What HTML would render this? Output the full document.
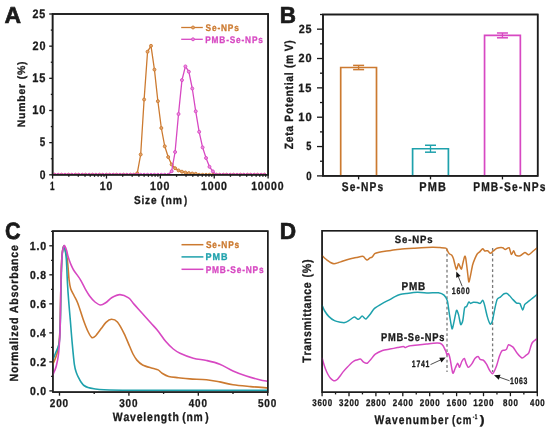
<!DOCTYPE html>
<html><head><meta charset="utf-8"><style>
html,body{margin:0;padding:0;background:#fff;}
body{width:550px;height:430px;overflow:hidden;}
svg{display:block;will-change:transform;}
text{font-family:"Liberation Sans", sans-serif;font-weight:bold;text-rendering:geometricPrecision;font-kerning:none;font-variant-ligatures:none;stroke-width:0.3px;stroke-linejoin:round;}
</style></head><body>
<svg width="550" height="430" viewBox="0 0 550 430">
<defs><clipPath id="clipA"><rect x="52.6" y="10" width="215.5" height="164.8"/></clipPath><clipPath id="clipC"><rect x="52.8" y="231.1" width="214.9" height="160.5"/></clipPath></defs>
<rect width="550" height="430" fill="#fff"/>
<text style="stroke-width:0.7px" x="0" y="22.8" font-size="22.97" fill="#1a1a1a" stroke="#1a1a1a" letter-spacing="0.95" transform="translate(4.53,0) scale(0.9995,1)">A</text>
<text style="stroke-width:0.7px" x="0" y="22.8" font-size="23.26" fill="#1a1a1a" stroke="#1a1a1a" letter-spacing="0.95" transform="translate(279.8,0) scale(0.9660,1)">B</text>
<text style="stroke-width:0.7px" x="0" y="238.8" font-size="23.55" fill="#1a1a1a" stroke="#1a1a1a" letter-spacing="0.95" transform="translate(4.92,0) scale(0.9159,1)">C</text>
<text style="stroke-width:0.7px" x="0" y="238.7" font-size="23.11" fill="#1a1a1a" stroke="#1a1a1a" letter-spacing="0.95" transform="translate(279.78,0) scale(0.9807,1)">D</text>
<rect x="52.6" y="14" width="215.5" height="160.8" fill="none" stroke="#1c1c1c" stroke-width="1.55"/>
<line x1="49.2" y1="174.8" x2="52.6" y2="174.8" stroke="#1a1a1a" stroke-width="1.3"/>
<text x="0" y="178.55" font-size="12.35" fill="#1a1a1a" stroke="#1a1a1a" letter-spacing="0.95" transform="translate(39.69,0) scale(0.8339,1)">0</text>
<line x1="49.2" y1="142.64" x2="52.6" y2="142.64" stroke="#1a1a1a" stroke-width="1.3"/>
<text x="0" y="146.39" font-size="12.35" fill="#1a1a1a" stroke="#1a1a1a" letter-spacing="0.95" transform="translate(39.8,0) scale(0.7971,1)">5</text>
<line x1="49.2" y1="110.48" x2="52.6" y2="110.48" stroke="#1a1a1a" stroke-width="1.3"/>
<text x="0" y="114.23" font-size="12.35" fill="#1a1a1a" stroke="#1a1a1a" letter-spacing="0.95" transform="translate(32.2,0) scale(0.9025,1)">10</text>
<line x1="49.2" y1="78.32" x2="52.6" y2="78.32" stroke="#1a1a1a" stroke-width="1.3"/>
<text x="0" y="82.07" font-size="12.35" fill="#1a1a1a" stroke="#1a1a1a" letter-spacing="0.95" transform="translate(32.21,0) scale(0.8917,1)">15</text>
<line x1="49.2" y1="46.16" x2="52.6" y2="46.16" stroke="#1a1a1a" stroke-width="1.3"/>
<text x="0" y="49.91" font-size="12.35" fill="#1a1a1a" stroke="#1a1a1a" letter-spacing="0.95" transform="translate(32.52,0) scale(0.8795,1)">20</text>
<line x1="49.2" y1="14" x2="52.6" y2="14" stroke="#1a1a1a" stroke-width="1.3"/>
<text x="0" y="17.75" font-size="12.35" fill="#1a1a1a" stroke="#1a1a1a" letter-spacing="0.95" transform="translate(32.53,0) scale(0.8693,1)">25</text>
<line x1="50.8" y1="158.72" x2="52.6" y2="158.72" stroke="#1a1a1a" stroke-width="1.3"/>
<line x1="50.8" y1="126.56" x2="52.6" y2="126.56" stroke="#1a1a1a" stroke-width="1.3"/>
<line x1="50.8" y1="94.4" x2="52.6" y2="94.4" stroke="#1a1a1a" stroke-width="1.3"/>
<line x1="50.8" y1="62.24" x2="52.6" y2="62.24" stroke="#1a1a1a" stroke-width="1.3"/>
<line x1="50.8" y1="30.08" x2="52.6" y2="30.08" stroke="#1a1a1a" stroke-width="1.3"/>
<line x1="52.6" y1="174.8" x2="52.6" y2="178.6" stroke="#1a1a1a" stroke-width="1.3"/>
<text x="0" y="190" font-size="11.92" fill="#1a1a1a" stroke="#1a1a1a" letter-spacing="0.95" transform="translate(49.99,0) scale(0.6852,1)">1</text>
<line x1="106.48" y1="174.8" x2="106.48" y2="178.6" stroke="#1a1a1a" stroke-width="1.3"/>
<text x="0" y="190" font-size="11.92" fill="#1a1a1a" stroke="#1a1a1a" letter-spacing="0.95" transform="translate(99.84,0) scale(0.8791,1)">10</text>
<line x1="160.35" y1="174.8" x2="160.35" y2="178.6" stroke="#1a1a1a" stroke-width="1.3"/>
<text x="0" y="190" font-size="11.92" fill="#1a1a1a" stroke="#1a1a1a" letter-spacing="0.95" transform="translate(150.08,0) scale(0.8907,1)">100</text>
<line x1="214.23" y1="174.8" x2="214.23" y2="178.6" stroke="#1a1a1a" stroke-width="1.3"/>
<text x="0" y="190" font-size="11.92" fill="#1a1a1a" stroke="#1a1a1a" letter-spacing="0.95" transform="translate(200.93,0) scale(0.8889,1)">1000</text>
<line x1="268.1" y1="174.8" x2="268.1" y2="178.6" stroke="#1a1a1a" stroke-width="1.3"/>
<text x="0" y="190" font-size="11.92" fill="#1a1a1a" stroke="#1a1a1a" letter-spacing="0.95" transform="translate(251.19,0) scale(0.8767,1)">10000</text>
<line x1="68.82" y1="174.8" x2="68.82" y2="176.8" stroke="#1a1a1a" stroke-width="1.3"/>
<line x1="78.3" y1="174.8" x2="78.3" y2="176.8" stroke="#1a1a1a" stroke-width="1.3"/>
<line x1="85.04" y1="174.8" x2="85.04" y2="176.8" stroke="#1a1a1a" stroke-width="1.3"/>
<line x1="90.26" y1="174.8" x2="90.26" y2="176.8" stroke="#1a1a1a" stroke-width="1.3"/>
<line x1="94.52" y1="174.8" x2="94.52" y2="176.8" stroke="#1a1a1a" stroke-width="1.3"/>
<line x1="98.13" y1="174.8" x2="98.13" y2="176.8" stroke="#1a1a1a" stroke-width="1.3"/>
<line x1="101.25" y1="174.8" x2="101.25" y2="176.8" stroke="#1a1a1a" stroke-width="1.3"/>
<line x1="104.01" y1="174.8" x2="104.01" y2="176.8" stroke="#1a1a1a" stroke-width="1.3"/>
<line x1="122.69" y1="174.8" x2="122.69" y2="176.8" stroke="#1a1a1a" stroke-width="1.3"/>
<line x1="132.18" y1="174.8" x2="132.18" y2="176.8" stroke="#1a1a1a" stroke-width="1.3"/>
<line x1="138.91" y1="174.8" x2="138.91" y2="176.8" stroke="#1a1a1a" stroke-width="1.3"/>
<line x1="144.13" y1="174.8" x2="144.13" y2="176.8" stroke="#1a1a1a" stroke-width="1.3"/>
<line x1="148.4" y1="174.8" x2="148.4" y2="176.8" stroke="#1a1a1a" stroke-width="1.3"/>
<line x1="152" y1="174.8" x2="152" y2="176.8" stroke="#1a1a1a" stroke-width="1.3"/>
<line x1="155.13" y1="174.8" x2="155.13" y2="176.8" stroke="#1a1a1a" stroke-width="1.3"/>
<line x1="157.88" y1="174.8" x2="157.88" y2="176.8" stroke="#1a1a1a" stroke-width="1.3"/>
<line x1="176.57" y1="174.8" x2="176.57" y2="176.8" stroke="#1a1a1a" stroke-width="1.3"/>
<line x1="186.05" y1="174.8" x2="186.05" y2="176.8" stroke="#1a1a1a" stroke-width="1.3"/>
<line x1="192.79" y1="174.8" x2="192.79" y2="176.8" stroke="#1a1a1a" stroke-width="1.3"/>
<line x1="198.01" y1="174.8" x2="198.01" y2="176.8" stroke="#1a1a1a" stroke-width="1.3"/>
<line x1="202.27" y1="174.8" x2="202.27" y2="176.8" stroke="#1a1a1a" stroke-width="1.3"/>
<line x1="205.88" y1="174.8" x2="205.88" y2="176.8" stroke="#1a1a1a" stroke-width="1.3"/>
<line x1="209" y1="174.8" x2="209" y2="176.8" stroke="#1a1a1a" stroke-width="1.3"/>
<line x1="211.76" y1="174.8" x2="211.76" y2="176.8" stroke="#1a1a1a" stroke-width="1.3"/>
<line x1="230.44" y1="174.8" x2="230.44" y2="176.8" stroke="#1a1a1a" stroke-width="1.3"/>
<line x1="239.93" y1="174.8" x2="239.93" y2="176.8" stroke="#1a1a1a" stroke-width="1.3"/>
<line x1="246.66" y1="174.8" x2="246.66" y2="176.8" stroke="#1a1a1a" stroke-width="1.3"/>
<line x1="251.88" y1="174.8" x2="251.88" y2="176.8" stroke="#1a1a1a" stroke-width="1.3"/>
<line x1="256.15" y1="174.8" x2="256.15" y2="176.8" stroke="#1a1a1a" stroke-width="1.3"/>
<line x1="259.75" y1="174.8" x2="259.75" y2="176.8" stroke="#1a1a1a" stroke-width="1.3"/>
<line x1="262.88" y1="174.8" x2="262.88" y2="176.8" stroke="#1a1a1a" stroke-width="1.3"/>
<line x1="265.63" y1="174.8" x2="265.63" y2="176.8" stroke="#1a1a1a" stroke-width="1.3"/>
<text x="0" y="203.6" font-size="11.48" fill="#1a1a1a" stroke="#1a1a1a" letter-spacing="0.95" transform="translate(133.91,0) scale(0.8764,1)">Size</text>
<text x="0" y="203.6" font-size="11.48" fill="#1a1a1a" stroke="#1a1a1a" letter-spacing="0.95" transform="translate(161.08,0) scale(0.9094,1)">(nm</text>
<text x="0" y="203.6" font-size="11.48" fill="#1a1a1a" stroke="#1a1a1a" transform="translate(183.99,0) scale(0.8332,1)">)</text>
<text x="0" y="0" font-size="10.76" fill="#1a1a1a" stroke="#1a1a1a" letter-spacing="0.8" transform="translate(24.5,126.6) rotate(-90) translate(-0.7,0) scale(0.9744,1)">Number (%)</text>
<g clip-path="url(#clipA)">
<path d="M54.68,174.8 L58.12,174.8 L61.56,174.8 L65,174.8 L68.44,174.8 L71.88,174.8 L75.32,174.8 L78.76,174.8 L82.2,174.8 L85.64,174.8 L89.08,174.8 L92.52,174.8 L95.96,174.8 L99.4,174.8 L102.84,174.8 L106.28,174.8 L109.72,174.8 L113.16,174.8 L116.6,174.8 L120.04,174.8 L123.48,174.8 L126.92,174.8 L130.36,174.8 L133.8,174.8 L137.24,173.3 L140.68,154.5 L144.12,99.5 L147.56,51.7 L151,45.8 L154.44,69.6 L157.88,101.2 L161.32,128 L164.76,146.3 L168.2,157 L171.64,164.5 L175.08,168.2 L178.52,170.4 L181.96,171.7 L185.4,172.5 L188.84,173.1 L192.28,173.5 L195.72,173.8 L199.16,174.8 L202.6,174.8 L206.04,174.8 L209.48,174.8 L212.92,174.8 L216.36,174.8 L219.8,174.8 L223.24,174.8 L226.68,174.8 L230.12,174.8 L233.56,174.8 L237,174.8 L240.44,174.8 L243.88,174.8 L247.32,174.8 L250.76,174.8 L254.2,174.8 L257.64,174.8 L261.08,174.8 L264.52,174.8" fill="none" stroke="#cc7a30" stroke-width="1.3" stroke-linejoin="round" stroke-linecap="round"/>
<circle cx="54.68" cy="174.8" r="1.5" fill="#e2a670" stroke="#cc7a30" stroke-width="0.9"/><circle cx="58.12" cy="174.8" r="1.5" fill="#e2a670" stroke="#cc7a30" stroke-width="0.9"/><circle cx="61.56" cy="174.8" r="1.5" fill="#e2a670" stroke="#cc7a30" stroke-width="0.9"/><circle cx="65" cy="174.8" r="1.5" fill="#e2a670" stroke="#cc7a30" stroke-width="0.9"/><circle cx="68.44" cy="174.8" r="1.5" fill="#e2a670" stroke="#cc7a30" stroke-width="0.9"/><circle cx="71.88" cy="174.8" r="1.5" fill="#e2a670" stroke="#cc7a30" stroke-width="0.9"/><circle cx="75.32" cy="174.8" r="1.5" fill="#e2a670" stroke="#cc7a30" stroke-width="0.9"/><circle cx="78.76" cy="174.8" r="1.5" fill="#e2a670" stroke="#cc7a30" stroke-width="0.9"/><circle cx="82.2" cy="174.8" r="1.5" fill="#e2a670" stroke="#cc7a30" stroke-width="0.9"/><circle cx="85.64" cy="174.8" r="1.5" fill="#e2a670" stroke="#cc7a30" stroke-width="0.9"/><circle cx="89.08" cy="174.8" r="1.5" fill="#e2a670" stroke="#cc7a30" stroke-width="0.9"/><circle cx="92.52" cy="174.8" r="1.5" fill="#e2a670" stroke="#cc7a30" stroke-width="0.9"/><circle cx="95.96" cy="174.8" r="1.5" fill="#e2a670" stroke="#cc7a30" stroke-width="0.9"/><circle cx="99.4" cy="174.8" r="1.5" fill="#e2a670" stroke="#cc7a30" stroke-width="0.9"/><circle cx="102.84" cy="174.8" r="1.5" fill="#e2a670" stroke="#cc7a30" stroke-width="0.9"/><circle cx="106.28" cy="174.8" r="1.5" fill="#e2a670" stroke="#cc7a30" stroke-width="0.9"/><circle cx="109.72" cy="174.8" r="1.5" fill="#e2a670" stroke="#cc7a30" stroke-width="0.9"/><circle cx="113.16" cy="174.8" r="1.5" fill="#e2a670" stroke="#cc7a30" stroke-width="0.9"/><circle cx="116.6" cy="174.8" r="1.5" fill="#e2a670" stroke="#cc7a30" stroke-width="0.9"/><circle cx="120.04" cy="174.8" r="1.5" fill="#e2a670" stroke="#cc7a30" stroke-width="0.9"/><circle cx="123.48" cy="174.8" r="1.5" fill="#e2a670" stroke="#cc7a30" stroke-width="0.9"/><circle cx="126.92" cy="174.8" r="1.5" fill="#e2a670" stroke="#cc7a30" stroke-width="0.9"/><circle cx="130.36" cy="174.8" r="1.5" fill="#e2a670" stroke="#cc7a30" stroke-width="0.9"/><circle cx="133.8" cy="174.8" r="1.5" fill="#e2a670" stroke="#cc7a30" stroke-width="0.9"/><circle cx="137.24" cy="173.3" r="1.5" fill="#e2a670" stroke="#cc7a30" stroke-width="0.9"/><circle cx="140.68" cy="154.5" r="1.5" fill="#e2a670" stroke="#cc7a30" stroke-width="0.9"/><circle cx="144.12" cy="99.5" r="1.5" fill="#e2a670" stroke="#cc7a30" stroke-width="0.9"/><circle cx="147.56" cy="51.7" r="1.5" fill="#e2a670" stroke="#cc7a30" stroke-width="0.9"/><circle cx="151" cy="45.8" r="1.5" fill="#e2a670" stroke="#cc7a30" stroke-width="0.9"/><circle cx="154.44" cy="69.6" r="1.5" fill="#e2a670" stroke="#cc7a30" stroke-width="0.9"/><circle cx="157.88" cy="101.2" r="1.5" fill="#e2a670" stroke="#cc7a30" stroke-width="0.9"/><circle cx="161.32" cy="128" r="1.5" fill="#e2a670" stroke="#cc7a30" stroke-width="0.9"/><circle cx="164.76" cy="146.3" r="1.5" fill="#e2a670" stroke="#cc7a30" stroke-width="0.9"/><circle cx="168.2" cy="157" r="1.5" fill="#e2a670" stroke="#cc7a30" stroke-width="0.9"/><circle cx="171.64" cy="164.5" r="1.5" fill="#e2a670" stroke="#cc7a30" stroke-width="0.9"/><circle cx="175.08" cy="168.2" r="1.5" fill="#e2a670" stroke="#cc7a30" stroke-width="0.9"/><circle cx="178.52" cy="170.4" r="1.5" fill="#e2a670" stroke="#cc7a30" stroke-width="0.9"/><circle cx="181.96" cy="171.7" r="1.5" fill="#e2a670" stroke="#cc7a30" stroke-width="0.9"/><circle cx="185.4" cy="172.5" r="1.5" fill="#e2a670" stroke="#cc7a30" stroke-width="0.9"/><circle cx="188.84" cy="173.1" r="1.5" fill="#e2a670" stroke="#cc7a30" stroke-width="0.9"/><circle cx="192.28" cy="173.5" r="1.5" fill="#e2a670" stroke="#cc7a30" stroke-width="0.9"/><circle cx="195.72" cy="173.8" r="1.5" fill="#e2a670" stroke="#cc7a30" stroke-width="0.9"/><circle cx="199.16" cy="174.8" r="1.5" fill="#e2a670" stroke="#cc7a30" stroke-width="0.9"/><circle cx="202.6" cy="174.8" r="1.5" fill="#e2a670" stroke="#cc7a30" stroke-width="0.9"/><circle cx="206.04" cy="174.8" r="1.5" fill="#e2a670" stroke="#cc7a30" stroke-width="0.9"/><circle cx="209.48" cy="174.8" r="1.5" fill="#e2a670" stroke="#cc7a30" stroke-width="0.9"/><circle cx="212.92" cy="174.8" r="1.5" fill="#e2a670" stroke="#cc7a30" stroke-width="0.9"/><circle cx="216.36" cy="174.8" r="1.5" fill="#e2a670" stroke="#cc7a30" stroke-width="0.9"/><circle cx="219.8" cy="174.8" r="1.5" fill="#e2a670" stroke="#cc7a30" stroke-width="0.9"/><circle cx="223.24" cy="174.8" r="1.5" fill="#e2a670" stroke="#cc7a30" stroke-width="0.9"/><circle cx="226.68" cy="174.8" r="1.5" fill="#e2a670" stroke="#cc7a30" stroke-width="0.9"/><circle cx="230.12" cy="174.8" r="1.5" fill="#e2a670" stroke="#cc7a30" stroke-width="0.9"/><circle cx="233.56" cy="174.8" r="1.5" fill="#e2a670" stroke="#cc7a30" stroke-width="0.9"/><circle cx="237" cy="174.8" r="1.5" fill="#e2a670" stroke="#cc7a30" stroke-width="0.9"/><circle cx="240.44" cy="174.8" r="1.5" fill="#e2a670" stroke="#cc7a30" stroke-width="0.9"/><circle cx="243.88" cy="174.8" r="1.5" fill="#e2a670" stroke="#cc7a30" stroke-width="0.9"/><circle cx="247.32" cy="174.8" r="1.5" fill="#e2a670" stroke="#cc7a30" stroke-width="0.9"/><circle cx="250.76" cy="174.8" r="1.5" fill="#e2a670" stroke="#cc7a30" stroke-width="0.9"/><circle cx="254.2" cy="174.8" r="1.5" fill="#e2a670" stroke="#cc7a30" stroke-width="0.9"/><circle cx="257.64" cy="174.8" r="1.5" fill="#e2a670" stroke="#cc7a30" stroke-width="0.9"/><circle cx="261.08" cy="174.8" r="1.5" fill="#e2a670" stroke="#cc7a30" stroke-width="0.9"/><circle cx="264.52" cy="174.8" r="1.5" fill="#e2a670" stroke="#cc7a30" stroke-width="0.9"/>
<path d="M54.68,174.8 L58.12,174.8 L61.56,174.8 L65,174.8 L68.44,174.8 L71.88,174.8 L75.32,174.8 L78.76,174.8 L82.2,174.8 L85.64,174.8 L89.08,174.8 L92.52,174.8 L95.96,174.8 L99.4,174.8 L102.84,174.8 L106.28,174.8 L109.72,174.8 L113.16,174.8 L116.6,174.8 L120.04,174.8 L123.48,174.8 L126.92,174.8 L130.36,174.8 L133.8,174.8 L137.24,174.8 L140.68,174.8 L144.12,174.8 L147.56,174.8 L151,174.8 L154.44,174.8 L157.88,174.8 L161.32,174.8 L164.76,174.8 L168.2,174.8 L171.64,171.2 L175.08,152 L178.52,114 L181.96,80.1 L185.4,66.4 L188.84,71.7 L192.28,88.5 L195.72,111.3 L199.16,131.8 L202.6,147.4 L206.04,158 L209.48,166.8 L212.92,171.4 L216.36,174.8 L219.8,174.8 L223.24,174.8 L226.68,174.8 L230.12,174.8 L233.56,174.8 L237,174.8 L240.44,174.8 L243.88,174.8 L247.32,174.8 L250.76,174.8 L254.2,174.8 L257.64,174.8 L261.08,174.8 L264.52,174.8" fill="none" stroke="#d748c2" stroke-width="1.3" stroke-linejoin="round" stroke-linecap="round"/>
<circle cx="54.68" cy="174.8" r="1.5" fill="#ec8fdf" stroke="#d748c2" stroke-width="0.9"/><circle cx="58.12" cy="174.8" r="1.5" fill="#ec8fdf" stroke="#d748c2" stroke-width="0.9"/><circle cx="61.56" cy="174.8" r="1.5" fill="#ec8fdf" stroke="#d748c2" stroke-width="0.9"/><circle cx="65" cy="174.8" r="1.5" fill="#ec8fdf" stroke="#d748c2" stroke-width="0.9"/><circle cx="68.44" cy="174.8" r="1.5" fill="#ec8fdf" stroke="#d748c2" stroke-width="0.9"/><circle cx="71.88" cy="174.8" r="1.5" fill="#ec8fdf" stroke="#d748c2" stroke-width="0.9"/><circle cx="75.32" cy="174.8" r="1.5" fill="#ec8fdf" stroke="#d748c2" stroke-width="0.9"/><circle cx="78.76" cy="174.8" r="1.5" fill="#ec8fdf" stroke="#d748c2" stroke-width="0.9"/><circle cx="82.2" cy="174.8" r="1.5" fill="#ec8fdf" stroke="#d748c2" stroke-width="0.9"/><circle cx="85.64" cy="174.8" r="1.5" fill="#ec8fdf" stroke="#d748c2" stroke-width="0.9"/><circle cx="89.08" cy="174.8" r="1.5" fill="#ec8fdf" stroke="#d748c2" stroke-width="0.9"/><circle cx="92.52" cy="174.8" r="1.5" fill="#ec8fdf" stroke="#d748c2" stroke-width="0.9"/><circle cx="95.96" cy="174.8" r="1.5" fill="#ec8fdf" stroke="#d748c2" stroke-width="0.9"/><circle cx="99.4" cy="174.8" r="1.5" fill="#ec8fdf" stroke="#d748c2" stroke-width="0.9"/><circle cx="102.84" cy="174.8" r="1.5" fill="#ec8fdf" stroke="#d748c2" stroke-width="0.9"/><circle cx="106.28" cy="174.8" r="1.5" fill="#ec8fdf" stroke="#d748c2" stroke-width="0.9"/><circle cx="109.72" cy="174.8" r="1.5" fill="#ec8fdf" stroke="#d748c2" stroke-width="0.9"/><circle cx="113.16" cy="174.8" r="1.5" fill="#ec8fdf" stroke="#d748c2" stroke-width="0.9"/><circle cx="116.6" cy="174.8" r="1.5" fill="#ec8fdf" stroke="#d748c2" stroke-width="0.9"/><circle cx="120.04" cy="174.8" r="1.5" fill="#ec8fdf" stroke="#d748c2" stroke-width="0.9"/><circle cx="123.48" cy="174.8" r="1.5" fill="#ec8fdf" stroke="#d748c2" stroke-width="0.9"/><circle cx="126.92" cy="174.8" r="1.5" fill="#ec8fdf" stroke="#d748c2" stroke-width="0.9"/><circle cx="130.36" cy="174.8" r="1.5" fill="#ec8fdf" stroke="#d748c2" stroke-width="0.9"/><circle cx="133.8" cy="174.8" r="1.5" fill="#ec8fdf" stroke="#d748c2" stroke-width="0.9"/><circle cx="137.24" cy="174.8" r="1.5" fill="#ec8fdf" stroke="#d748c2" stroke-width="0.9"/><circle cx="140.68" cy="174.8" r="1.5" fill="#ec8fdf" stroke="#d748c2" stroke-width="0.9"/><circle cx="144.12" cy="174.8" r="1.5" fill="#ec8fdf" stroke="#d748c2" stroke-width="0.9"/><circle cx="147.56" cy="174.8" r="1.5" fill="#ec8fdf" stroke="#d748c2" stroke-width="0.9"/><circle cx="151" cy="174.8" r="1.5" fill="#ec8fdf" stroke="#d748c2" stroke-width="0.9"/><circle cx="154.44" cy="174.8" r="1.5" fill="#ec8fdf" stroke="#d748c2" stroke-width="0.9"/><circle cx="157.88" cy="174.8" r="1.5" fill="#ec8fdf" stroke="#d748c2" stroke-width="0.9"/><circle cx="161.32" cy="174.8" r="1.5" fill="#ec8fdf" stroke="#d748c2" stroke-width="0.9"/><circle cx="164.76" cy="174.8" r="1.5" fill="#ec8fdf" stroke="#d748c2" stroke-width="0.9"/><circle cx="168.2" cy="174.8" r="1.5" fill="#ec8fdf" stroke="#d748c2" stroke-width="0.9"/><circle cx="171.64" cy="171.2" r="1.5" fill="#ec8fdf" stroke="#d748c2" stroke-width="0.9"/><circle cx="175.08" cy="152" r="1.5" fill="#ec8fdf" stroke="#d748c2" stroke-width="0.9"/><circle cx="178.52" cy="114" r="1.5" fill="#ec8fdf" stroke="#d748c2" stroke-width="0.9"/><circle cx="181.96" cy="80.1" r="1.5" fill="#ec8fdf" stroke="#d748c2" stroke-width="0.9"/><circle cx="185.4" cy="66.4" r="1.5" fill="#ec8fdf" stroke="#d748c2" stroke-width="0.9"/><circle cx="188.84" cy="71.7" r="1.5" fill="#ec8fdf" stroke="#d748c2" stroke-width="0.9"/><circle cx="192.28" cy="88.5" r="1.5" fill="#ec8fdf" stroke="#d748c2" stroke-width="0.9"/><circle cx="195.72" cy="111.3" r="1.5" fill="#ec8fdf" stroke="#d748c2" stroke-width="0.9"/><circle cx="199.16" cy="131.8" r="1.5" fill="#ec8fdf" stroke="#d748c2" stroke-width="0.9"/><circle cx="202.6" cy="147.4" r="1.5" fill="#ec8fdf" stroke="#d748c2" stroke-width="0.9"/><circle cx="206.04" cy="158" r="1.5" fill="#ec8fdf" stroke="#d748c2" stroke-width="0.9"/><circle cx="209.48" cy="166.8" r="1.5" fill="#ec8fdf" stroke="#d748c2" stroke-width="0.9"/><circle cx="212.92" cy="171.4" r="1.5" fill="#ec8fdf" stroke="#d748c2" stroke-width="0.9"/><circle cx="216.36" cy="174.8" r="1.5" fill="#ec8fdf" stroke="#d748c2" stroke-width="0.9"/><circle cx="219.8" cy="174.8" r="1.5" fill="#ec8fdf" stroke="#d748c2" stroke-width="0.9"/><circle cx="223.24" cy="174.8" r="1.5" fill="#ec8fdf" stroke="#d748c2" stroke-width="0.9"/><circle cx="226.68" cy="174.8" r="1.5" fill="#ec8fdf" stroke="#d748c2" stroke-width="0.9"/><circle cx="230.12" cy="174.8" r="1.5" fill="#ec8fdf" stroke="#d748c2" stroke-width="0.9"/><circle cx="233.56" cy="174.8" r="1.5" fill="#ec8fdf" stroke="#d748c2" stroke-width="0.9"/><circle cx="237" cy="174.8" r="1.5" fill="#ec8fdf" stroke="#d748c2" stroke-width="0.9"/><circle cx="240.44" cy="174.8" r="1.5" fill="#ec8fdf" stroke="#d748c2" stroke-width="0.9"/><circle cx="243.88" cy="174.8" r="1.5" fill="#ec8fdf" stroke="#d748c2" stroke-width="0.9"/><circle cx="247.32" cy="174.8" r="1.5" fill="#ec8fdf" stroke="#d748c2" stroke-width="0.9"/><circle cx="250.76" cy="174.8" r="1.5" fill="#ec8fdf" stroke="#d748c2" stroke-width="0.9"/><circle cx="254.2" cy="174.8" r="1.5" fill="#ec8fdf" stroke="#d748c2" stroke-width="0.9"/><circle cx="257.64" cy="174.8" r="1.5" fill="#ec8fdf" stroke="#d748c2" stroke-width="0.9"/><circle cx="261.08" cy="174.8" r="1.5" fill="#ec8fdf" stroke="#d748c2" stroke-width="0.9"/><circle cx="264.52" cy="174.8" r="1.5" fill="#ec8fdf" stroke="#d748c2" stroke-width="0.9"/>
</g>
<rect x="52.6" y="14" width="215.5" height="160.8" fill="none" stroke="#1c1c1c" stroke-width="1.55"/>
<line x1="181.2" y1="27.5" x2="202.8" y2="27.5" stroke="#cc7a30" stroke-width="1.3"/>
<circle cx="193" cy="27.5" r="1.5" fill="#e2a670" stroke="#cc7a30" stroke-width="0.9"/>
<text x="0" y="31" font-size="9.59" fill="#cc7a30" stroke="#cc7a30" letter-spacing="0.95" transform="translate(205.56,0) scale(0.8681,1)">Se-NPs</text>
<line x1="181.2" y1="39.3" x2="202.8" y2="39.3" stroke="#d748c2" stroke-width="1.3"/>
<circle cx="193" cy="39.3" r="1.5" fill="#ec8fdf" stroke="#d748c2" stroke-width="0.9"/>
<text x="0" y="42.8" font-size="9.59" fill="#d748c2" stroke="#d748c2" letter-spacing="0.95" transform="translate(205.24,0) scale(0.8656,1)">PMB-Se-NPs</text>
<rect x="323" y="14.5" width="214.7" height="161.4" fill="none" stroke="#1c1c1c" stroke-width="1.55"/>
<line x1="317" y1="175.9" x2="323" y2="175.9" stroke="#1a1a1a" stroke-width="1.3"/>
<text x="0" y="179.6" font-size="11.92" fill="#1a1a1a" stroke="#1a1a1a" letter-spacing="0.95" transform="translate(306.22,0) scale(0.8115,1)">0</text>
<line x1="317" y1="146.55" x2="323" y2="146.55" stroke="#1a1a1a" stroke-width="1.3"/>
<text x="0" y="150.25" font-size="11.92" fill="#1a1a1a" stroke="#1a1a1a" letter-spacing="0.95" transform="translate(306.32,0) scale(0.7757,1)">5</text>
<line x1="317" y1="117.21" x2="323" y2="117.21" stroke="#1a1a1a" stroke-width="1.3"/>
<text x="0" y="120.91" font-size="11.92" fill="#1a1a1a" stroke="#1a1a1a" letter-spacing="0.95" transform="translate(298.29,0) scale(0.9408,1)">10</text>
<line x1="317" y1="87.86" x2="323" y2="87.86" stroke="#1a1a1a" stroke-width="1.3"/>
<text x="0" y="91.56" font-size="11.92" fill="#1a1a1a" stroke="#1a1a1a" letter-spacing="0.95" transform="translate(298.3,0) scale(0.9295,1)">15</text>
<line x1="317" y1="58.52" x2="323" y2="58.52" stroke="#1a1a1a" stroke-width="1.3"/>
<text x="0" y="62.22" font-size="11.92" fill="#1a1a1a" stroke="#1a1a1a" letter-spacing="0.95" transform="translate(298.62,0) scale(0.9169,1)">20</text>
<line x1="317" y1="29.17" x2="323" y2="29.17" stroke="#1a1a1a" stroke-width="1.3"/>
<text x="0" y="32.87" font-size="11.92" fill="#1a1a1a" stroke="#1a1a1a" letter-spacing="0.95" transform="translate(298.63,0) scale(0.9062,1)">25</text>
<line x1="320" y1="161.23" x2="323" y2="161.23" stroke="#1a1a1a" stroke-width="1.3"/>
<line x1="320" y1="131.88" x2="323" y2="131.88" stroke="#1a1a1a" stroke-width="1.3"/>
<line x1="320" y1="102.54" x2="323" y2="102.54" stroke="#1a1a1a" stroke-width="1.3"/>
<line x1="320" y1="73.19" x2="323" y2="73.19" stroke="#1a1a1a" stroke-width="1.3"/>
<line x1="320" y1="43.85" x2="323" y2="43.85" stroke="#1a1a1a" stroke-width="1.3"/>
<line x1="320" y1="14.5" x2="323" y2="14.5" stroke="#1a1a1a" stroke-width="1.3"/>
<path d="M340.7,175.9 L340.7,67.5 L376.5,67.5 L376.5,175.9" fill="none" stroke="#cc7a30" stroke-width="1.7"/>
<line x1="358.6" y1="65.39" x2="358.6" y2="69.61" stroke="#cc7a30" stroke-width="1.3"/>
<line x1="353.1" y1="65.39" x2="364.1" y2="65.39" stroke="#cc7a30" stroke-width="1.5"/>
<line x1="353.1" y1="69.61" x2="364.1" y2="69.61" stroke="#cc7a30" stroke-width="1.5"/>
<line x1="358.6" y1="175.9" x2="358.6" y2="179.4" stroke="#1a1a1a" stroke-width="1.3"/>
<text x="0" y="190.8" font-size="12.65" fill="#1a1a1a" stroke="#1a1a1a" letter-spacing="1.4" transform="translate(341.81,0) scale(0.8076,1)">Se-NPs</text>
<path d="M412.6,175.9 L412.6,148.73 L448.4,148.73 L448.4,175.9" fill="none" stroke="#1ea1ac" stroke-width="1.7"/>
<line x1="430.5" y1="145.26" x2="430.5" y2="152.19" stroke="#1ea1ac" stroke-width="1.3"/>
<line x1="425" y1="145.26" x2="436" y2="145.26" stroke="#1ea1ac" stroke-width="1.5"/>
<line x1="425" y1="152.19" x2="436" y2="152.19" stroke="#1ea1ac" stroke-width="1.5"/>
<line x1="430.5" y1="175.9" x2="430.5" y2="179.4" stroke="#1a1a1a" stroke-width="1.3"/>
<text x="0" y="190.8" font-size="12.65" fill="#1a1a1a" stroke="#1a1a1a" letter-spacing="1.4" transform="translate(419.27,0) scale(0.8650,1)">PMB</text>
<path d="M484.55,175.9 L484.55,35.39 L520.35,35.39 L520.35,175.9" fill="none" stroke="#d748c2" stroke-width="1.7"/>
<line x1="502.45" y1="32.99" x2="502.45" y2="37.8" stroke="#d748c2" stroke-width="1.3"/>
<line x1="496.95" y1="32.99" x2="507.95" y2="32.99" stroke="#d748c2" stroke-width="1.5"/>
<line x1="496.95" y1="37.8" x2="507.95" y2="37.8" stroke="#d748c2" stroke-width="1.5"/>
<line x1="502.45" y1="175.9" x2="502.45" y2="179.4" stroke="#1a1a1a" stroke-width="1.3"/>
<text x="0" y="190.8" font-size="12.65" fill="#1a1a1a" stroke="#1a1a1a" letter-spacing="1.4" transform="translate(473.21,0) scale(0.8107,1)">PMB-Se-NPs</text>
<rect x="323" y="14.5" width="214.7" height="161.4" fill="none" stroke="#1c1c1c" stroke-width="1.55"/>
<text x="0" y="0" font-size="11.92" fill="#1a1a1a" stroke="#1a1a1a" letter-spacing="0.8" transform="translate(292.6,149) rotate(-90) translate(-0.31,0) scale(0.8701,1)">Zeta Potential (m V)</text>
<rect x="52.9" y="231.1" width="214.9" height="161" fill="none" stroke="#1c1c1c" stroke-width="1.4"/>
<line x1="49.3" y1="390.9" x2="52.9" y2="390.9" stroke="#1a1a1a" stroke-width="1.3"/>
<text x="0" y="394.6" font-size="11.63" fill="#1a1a1a" stroke="#1a1a1a" letter-spacing="0.95" transform="translate(29.89,0) scale(0.8991,1)">0.0</text>
<line x1="49.3" y1="361.88" x2="52.9" y2="361.88" stroke="#1a1a1a" stroke-width="1.3"/>
<text x="0" y="365.58" font-size="11.63" fill="#1a1a1a" stroke="#1a1a1a" letter-spacing="0.95" transform="translate(29.89,0) scale(0.8985,1)">0.2</text>
<line x1="49.3" y1="332.86" x2="52.9" y2="332.86" stroke="#1a1a1a" stroke-width="1.3"/>
<text x="0" y="336.56" font-size="11.63" fill="#1a1a1a" stroke="#1a1a1a" letter-spacing="0.95" transform="translate(29.9,0) scale(0.8779,1)">0.4</text>
<line x1="49.3" y1="303.84" x2="52.9" y2="303.84" stroke="#1a1a1a" stroke-width="1.3"/>
<text x="0" y="307.54" font-size="11.63" fill="#1a1a1a" stroke="#1a1a1a" letter-spacing="0.95" transform="translate(29.89,0) scale(0.8962,1)">0.6</text>
<line x1="49.3" y1="274.82" x2="52.9" y2="274.82" stroke="#1a1a1a" stroke-width="1.3"/>
<text x="0" y="278.52" font-size="11.63" fill="#1a1a1a" stroke="#1a1a1a" letter-spacing="0.95" transform="translate(29.89,0) scale(0.8929,1)">0.8</text>
<line x1="49.3" y1="245.8" x2="52.9" y2="245.8" stroke="#1a1a1a" stroke-width="1.3"/>
<text x="0" y="249.5" font-size="11.63" fill="#1a1a1a" stroke="#1a1a1a" letter-spacing="0.95" transform="translate(29.63,0) scale(0.9137,1)">1.0</text>
<line x1="51.1" y1="376.39" x2="52.9" y2="376.39" stroke="#1a1a1a" stroke-width="1.3"/>
<line x1="51.1" y1="347.37" x2="52.9" y2="347.37" stroke="#1a1a1a" stroke-width="1.3"/>
<line x1="51.1" y1="318.35" x2="52.9" y2="318.35" stroke="#1a1a1a" stroke-width="1.3"/>
<line x1="51.1" y1="289.33" x2="52.9" y2="289.33" stroke="#1a1a1a" stroke-width="1.3"/>
<line x1="51.1" y1="260.31" x2="52.9" y2="260.31" stroke="#1a1a1a" stroke-width="1.3"/>
<line x1="51.1" y1="231.29" x2="52.9" y2="231.29" stroke="#1a1a1a" stroke-width="1.3"/>
<line x1="59.5" y1="392.1" x2="59.5" y2="395.7" stroke="#1a1a1a" stroke-width="1.3"/>
<text x="0" y="407.4" font-size="11.34" fill="#1a1a1a" stroke="#1a1a1a" letter-spacing="0.95" transform="translate(49.75,0) scale(0.8819,1)">200</text>
<line x1="128.9" y1="392.1" x2="128.9" y2="395.7" stroke="#1a1a1a" stroke-width="1.3"/>
<text x="0" y="407.4" font-size="11.34" fill="#1a1a1a" stroke="#1a1a1a" letter-spacing="0.95" transform="translate(119.27,0) scale(0.8760,1)">300</text>
<line x1="198.3" y1="392.1" x2="198.3" y2="395.7" stroke="#1a1a1a" stroke-width="1.3"/>
<text x="0" y="407.4" font-size="11.34" fill="#1a1a1a" stroke="#1a1a1a" letter-spacing="0.95" transform="translate(188.75,0) scale(0.8722,1)">400</text>
<line x1="267.7" y1="392.1" x2="267.7" y2="395.7" stroke="#1a1a1a" stroke-width="1.3"/>
<text x="0" y="407.4" font-size="11.34" fill="#1a1a1a" stroke="#1a1a1a" letter-spacing="0.95" transform="translate(257.99,0) scale(0.8799,1)">500</text>
<line x1="94.2" y1="392.1" x2="94.2" y2="393.9" stroke="#1a1a1a" stroke-width="1.3"/>
<line x1="163.6" y1="392.1" x2="163.6" y2="393.9" stroke="#1a1a1a" stroke-width="1.3"/>
<line x1="233" y1="392.1" x2="233" y2="393.9" stroke="#1a1a1a" stroke-width="1.3"/>
<text x="0" y="420.7" font-size="12.06" fill="#1a1a1a" stroke="#1a1a1a" letter-spacing="0.95" transform="translate(112.69,0) scale(0.8677,1)">Wavelength</text>
<text x="0" y="420.7" font-size="12.06" fill="#1a1a1a" stroke="#1a1a1a" letter-spacing="0.95" transform="translate(182.19,0) scale(0.8560,1)">(nm</text>
<text x="0" y="420.7" font-size="12.06" fill="#1a1a1a" stroke="#1a1a1a" transform="translate(205.19,0) scale(0.8517,1)">)</text>
<text x="0" y="0" font-size="11.77" fill="#1a1a1a" stroke="#1a1a1a" letter-spacing="0.8" transform="translate(18.3,380.7) rotate(-90) translate(-0.71,0) scale(0.9039,1)">Normalized Absorbance</text>
<g clip-path="url(#clipC)">
<path d="M52.8,364.5 C53.25,363.42 54.68,360.28 55.5,358 C56.32,355.72 57.07,353.8 57.7,350.8 C58.33,347.8 58.9,344.3 59.3,340 C59.7,335.7 59.9,330.83 60.1,325 C60.3,319.17 60.37,311.67 60.5,305 C60.63,298.33 60.77,290.83 60.9,285 C61.03,279.17 61.15,274.4 61.3,270 C61.45,265.6 61.58,261.85 61.8,258.6 C62.02,255.35 62.23,252.6 62.6,250.5 C62.97,248.4 63.5,245.83 64,246 C64.5,246.17 65.07,249.4 65.6,251.5 C66.13,253.6 66.78,255.87 67.2,258.6 C67.62,261.33 67.78,264.33 68.1,267.9 C68.42,271.47 68.67,276.52 69.1,280 C69.53,283.48 69.88,286.22 70.7,288.8 C71.52,291.38 72.8,293.05 74,295.5 C75.2,297.95 76.32,299.38 77.9,303.5 C79.48,307.62 81.82,315.53 83.5,320.2 C85.18,324.87 86.62,328.62 88,331.5 C89.38,334.38 90.55,336.75 91.8,337.5 C93.05,338.25 93.93,337.48 95.5,336 C97.07,334.52 99.45,330.88 101.2,328.6 C102.95,326.32 104.3,323.85 106,322.3 C107.7,320.75 109.5,319.35 111.4,319.3 C113.3,319.25 115.3,319.67 117.4,322 C119.5,324.33 121.97,329.25 124,333.3 C126.03,337.35 128.1,342.85 129.6,346.3 C131.1,349.75 131.78,351.7 133,354 C134.22,356.3 135.3,358.27 136.9,360.1 C138.5,361.93 140.02,363.63 142.6,365 C145.18,366.37 149.82,367.48 152.4,368.3 C154.98,369.12 156.48,369.08 158.1,369.9 C159.72,370.72 160.33,372.12 162.1,373.2 C163.87,374.28 165.98,375.65 168.7,376.4 C171.42,377.15 174.88,377.28 178.4,377.7 C181.92,378.12 185.12,378.57 189.8,378.9 C194.48,379.23 201.5,379.2 206.5,379.7 C211.5,380.2 215.38,381.05 219.8,381.9 C224.22,382.75 227.85,384.02 233,384.8 C238.15,385.58 244.92,386.08 250.7,386.6 C256.48,387.12 264.87,387.68 267.7,387.9" fill="none" stroke="#cc7a30" stroke-width="1.6" stroke-linejoin="round" stroke-linecap="round"/>
<path d="M52.8,360 C53.33,358.67 54.95,354.72 56,352 C57.05,349.28 58.43,347.37 59.1,343.7 C59.77,340.03 59.77,334.28 60,330 C60.23,325.72 60.37,323 60.5,318 C60.63,313 60.7,305.5 60.8,300 C60.9,294.5 60.98,290 61.1,285 C61.22,280 61.35,274.5 61.5,270 C61.65,265.5 61.78,261.33 62,258 C62.22,254.67 62.47,252 62.8,250 C63.13,248 63.58,245.8 64,246 C64.42,246.2 64.92,249.1 65.3,251.2 C65.68,253.3 66.05,255.8 66.3,258.6 C66.55,261.4 66.63,264.43 66.8,268 C66.97,271.57 67.1,276 67.3,280 C67.5,284 67.72,287.83 68,292 C68.28,296.17 68.62,300.33 69,305 C69.38,309.67 69.78,313.83 70.3,320 C70.82,326.17 71.42,334.55 72.1,342 C72.78,349.45 73.67,359.53 74.4,364.7 C75.13,369.87 75.78,370.82 76.5,373 C77.22,375.18 77.95,376.3 78.7,377.8 C79.45,379.3 80.12,380.72 81,382 C81.88,383.28 82.83,384.57 84,385.5 C85.17,386.43 86.33,387.05 88,387.6 C89.67,388.15 91.33,388.45 94,388.8 C96.67,389.15 98,389.47 104,389.7 C110,389.93 114,390.08 130,390.2 C146,390.32 177.05,390.37 200,390.4 C222.95,390.43 256.42,390.4 267.7,390.4" fill="none" stroke="#1ea1ac" stroke-width="1.6" stroke-linejoin="round" stroke-linecap="round"/>
<path d="M52.8,375 C53.08,374.33 53.92,372.5 54.5,371 C55.08,369.5 55.65,368.67 56.3,366 C56.95,363.33 57.82,359.83 58.4,355 C58.98,350.17 59.48,342.83 59.8,337 C60.12,331.17 60.17,326.17 60.3,320 C60.43,313.83 60.5,305.83 60.6,300 C60.7,294.17 60.78,290 60.9,285 C61.02,280 61.15,274.4 61.3,270 C61.45,265.6 61.6,261.77 61.8,258.6 C62,255.43 62.13,253.13 62.5,251 C62.87,248.87 63.58,246.55 64,245.8 C64.42,245.05 64.57,245.72 65,246.5 C65.43,247.28 66.1,248.88 66.6,250.5 C67.1,252.12 67.57,254.62 68,256.2 C68.43,257.78 68.65,258.47 69.2,260 C69.75,261.53 70.57,263.73 71.3,265.4 C72.03,267.07 72.63,268.42 73.6,270 C74.57,271.58 75.93,273.22 77.1,274.9 C78.27,276.58 79.25,277.78 80.6,280.1 C81.95,282.42 83.63,286.07 85.2,288.8 C86.77,291.53 88.37,294.3 90,296.5 C91.63,298.7 93.23,300.58 95,302 C96.77,303.42 98.77,304.92 100.6,305 C102.43,305.08 104.1,303.75 106,302.5 C107.9,301.25 109.67,298.82 112,297.5 C114.33,296.18 117.23,294.53 120,294.6 C122.77,294.67 126.23,296.27 128.6,297.9 C130.97,299.53 131.87,301.77 134.2,304.4 C136.53,307.03 139.82,310.6 142.6,313.7 C145.38,316.8 148.27,320.05 150.9,323 C153.53,325.95 155.92,328.3 158.4,331.4 C160.88,334.5 163.32,338.67 165.8,341.6 C168.28,344.53 170.93,347.07 173.3,349 C175.67,350.93 176.67,351.67 180,353.2 C183.33,354.73 188.88,356.98 193.3,358.2 C197.72,359.42 202.08,359.5 206.5,360.5 C210.92,361.5 215.38,362.47 219.8,364.2 C224.22,365.93 228.58,368.93 233,370.9 C237.42,372.87 241.88,374.53 246.3,376 C250.72,377.47 255.93,378.82 259.5,379.7 C263.07,380.58 266.33,381.03 267.7,381.3" fill="none" stroke="#d748c2" stroke-width="1.6" stroke-linejoin="round" stroke-linecap="round"/>
</g>
<rect x="52.9" y="231.1" width="214.9" height="161" fill="none" stroke="#1c1c1c" stroke-width="1.4"/>
<line x1="181.5" y1="244.7" x2="203.4" y2="244.7" stroke="#cc7a30" stroke-width="1.5"/>
<text x="0" y="248.1" font-size="9.74" fill="#cc7a30" stroke="#cc7a30" letter-spacing="0.95" transform="translate(205.96,0) scale(0.8541,1)">Se-NPs</text>
<line x1="181.5" y1="256.9" x2="203.4" y2="256.9" stroke="#1ea1ac" stroke-width="1.5"/>
<text x="0" y="260.3" font-size="9.74" fill="#1ea1ac" stroke="#1ea1ac" letter-spacing="0.95" transform="translate(205.6,0) scale(0.9266,1)">PMB</text>
<line x1="181.5" y1="269.3" x2="203.4" y2="269.3" stroke="#d748c2" stroke-width="1.5"/>
<text x="0" y="272.7" font-size="9.74" fill="#d748c2" stroke="#d748c2" letter-spacing="0.95" transform="translate(205.64,0) scale(0.8589,1)">PMB-Se-NPs</text>
<rect x="322.1" y="230.7" width="215.2" height="161.5" fill="none" stroke="#1c1c1c" stroke-width="1.4"/>
<line x1="322.1" y1="392.2" x2="322.1" y2="396.2" stroke="#1a1a1a" stroke-width="1.3"/>
<text x="0" y="405.8" font-size="9.74" fill="#1a1a1a" stroke="#1a1a1a" letter-spacing="0.95" transform="translate(312.22,0) scale(0.8120,1)">3600</text>
<line x1="349" y1="392.2" x2="349" y2="396.2" stroke="#1a1a1a" stroke-width="1.3"/>
<text x="0" y="405.8" font-size="9.74" fill="#1a1a1a" stroke="#1a1a1a" letter-spacing="0.95" transform="translate(339.12,0) scale(0.8120,1)">3200</text>
<line x1="375.9" y1="392.2" x2="375.9" y2="396.2" stroke="#1a1a1a" stroke-width="1.3"/>
<text x="0" y="405.8" font-size="9.74" fill="#1a1a1a" stroke="#1a1a1a" letter-spacing="0.95" transform="translate(365.92,0) scale(0.8159,1)">2800</text>
<line x1="402.8" y1="392.2" x2="402.8" y2="396.2" stroke="#1a1a1a" stroke-width="1.3"/>
<text x="0" y="405.8" font-size="9.74" fill="#1a1a1a" stroke="#1a1a1a" letter-spacing="0.95" transform="translate(392.82,0) scale(0.8159,1)">2400</text>
<line x1="429.7" y1="392.2" x2="429.7" y2="396.2" stroke="#1a1a1a" stroke-width="1.3"/>
<text x="0" y="405.8" font-size="9.74" fill="#1a1a1a" stroke="#1a1a1a" letter-spacing="0.95" transform="translate(419.72,0) scale(0.8159,1)">2000</text>
<line x1="456.6" y1="392.2" x2="456.6" y2="396.2" stroke="#1a1a1a" stroke-width="1.3"/>
<text x="0" y="405.8" font-size="9.74" fill="#1a1a1a" stroke="#1a1a1a" letter-spacing="0.95" transform="translate(446.39,0) scale(0.8255,1)">1600</text>
<line x1="483.5" y1="392.2" x2="483.5" y2="396.2" stroke="#1a1a1a" stroke-width="1.3"/>
<text x="0" y="405.8" font-size="9.74" fill="#1a1a1a" stroke="#1a1a1a" letter-spacing="0.95" transform="translate(473.29,0) scale(0.8255,1)">1200</text>
<line x1="510.4" y1="392.2" x2="510.4" y2="396.2" stroke="#1a1a1a" stroke-width="1.3"/>
<text x="0" y="405.8" font-size="9.74" fill="#1a1a1a" stroke="#1a1a1a" letter-spacing="0.95" transform="translate(503.05,0) scale(0.8142,1)">800</text>
<line x1="537.3" y1="392.2" x2="537.3" y2="396.2" stroke="#1a1a1a" stroke-width="1.3"/>
<text x="0" y="405.8" font-size="9.74" fill="#1a1a1a" stroke="#1a1a1a" letter-spacing="0.95" transform="translate(530.08,0) scale(0.8068,1)">400</text>
<line x1="335.55" y1="392.2" x2="335.55" y2="394.4" stroke="#1a1a1a" stroke-width="1.3"/>
<line x1="362.45" y1="392.2" x2="362.45" y2="394.4" stroke="#1a1a1a" stroke-width="1.3"/>
<line x1="389.35" y1="392.2" x2="389.35" y2="394.4" stroke="#1a1a1a" stroke-width="1.3"/>
<line x1="416.25" y1="392.2" x2="416.25" y2="394.4" stroke="#1a1a1a" stroke-width="1.3"/>
<line x1="443.15" y1="392.2" x2="443.15" y2="394.4" stroke="#1a1a1a" stroke-width="1.3"/>
<line x1="470.05" y1="392.2" x2="470.05" y2="394.4" stroke="#1a1a1a" stroke-width="1.3"/>
<line x1="496.95" y1="392.2" x2="496.95" y2="394.4" stroke="#1a1a1a" stroke-width="1.3"/>
<line x1="523.85" y1="392.2" x2="523.85" y2="394.4" stroke="#1a1a1a" stroke-width="1.3"/>
<text x="0" y="423.5" font-size="12.35" fill="#1a1a1a" stroke="#1a1a1a" letter-spacing="1.3" transform="translate(374.39,0) scale(0.8291,1)">Wavenum</text>
<text x="0" y="423.5" font-size="12.35" fill="#1a1a1a" stroke="#1a1a1a" letter-spacing="1.3" transform="translate(430.74,0) scale(0.8164,1)">ber</text>
<text x="0" y="423.5" font-size="12.35" fill="#1a1a1a" stroke="#1a1a1a" letter-spacing="1.3" transform="translate(452.01,0) scale(0.7935,1)">(cm</text>
<text x="0" y="419.4" font-size="6.98" fill="#1a1a1a" stroke="#1a1a1a" letter-spacing="0.6" transform="translate(472.82,0) scale(0.6628,1)">-1</text>
<text x="0" y="423.5" font-size="12.35" fill="#1a1a1a" stroke="#1a1a1a" transform="translate(479.79,0) scale(1.1759,1)">)</text>
<text x="0" y="0" font-size="12.21" fill="#1a1a1a" stroke="#1a1a1a" letter-spacing="0.8" transform="translate(310.8,362.6) rotate(-90) translate(-0.12,0) scale(0.8648,1)">Transmittance</text>
<text x="0" y="0" font-size="12.21" fill="#1a1a1a" stroke="#1a1a1a" letter-spacing="0.8" transform="translate(310.8,276.9) rotate(-90) translate(-0.53,0) scale(0.8776,1)">(%)</text>
<line x1="447" y1="248.5" x2="447" y2="372" stroke="#7a7a7a" stroke-width="1.3" stroke-dasharray="2.8,2.5"/>
<line x1="492.6" y1="248" x2="492.6" y2="372" stroke="#7a7a7a" stroke-width="1.3" stroke-dasharray="2.8,2.5"/>
<path d="M322.2,255.7 C322.47,255.97 323.89,257.46 324.5,258 C325.11,258.54 326.7,259.78 327.4,260.3 C328.1,260.82 329.73,262.1 330.5,262.5 C331.27,262.9 333.12,263.66 334,263.7 C334.88,263.74 337.03,263.08 338,262.8 C338.97,262.52 341.25,261.65 342.3,261.3 C343.35,260.95 345.92,260.13 347,259.8 C348.08,259.47 350.49,258.77 351.6,258.5 C352.71,258.23 355.24,257.76 356.5,257.5 C357.76,257.24 361.52,256.36 362.4,256.3 C363.27,256.24 363.63,256.69 364,257 C364.37,257.31 365.24,258.65 365.6,259 C365.96,259.35 366.75,259.98 367.1,260 C367.45,260.02 368.26,259.46 368.6,259.2 C368.94,258.94 369.63,258.01 370,257.8 C370.37,257.59 371.43,257.63 371.8,257.4 C372.17,257.17 372.86,256.23 373.2,255.8 C373.54,255.37 374.01,254.11 374.7,253.7 C375.39,253.29 377.91,252.59 379.1,252.3 C380.29,252.01 383.51,251.42 384.9,251.2 C386.29,250.98 389.24,250.63 391,250.4 C392.76,250.17 397.36,249.44 400,249.2 C402.64,248.95 409.84,248.52 413.6,248.3 C417.36,248.08 429.12,247.38 432.2,247.3 C435.28,247.22 438.41,247.51 440,247.6 C441.59,247.69 444.91,247.7 445.8,248.1 C446.69,248.5 447.19,250.35 447.6,251 C448.01,251.65 448.83,253.22 449.3,253.7 C449.77,254.18 451.12,254.53 451.6,255.1 C452.08,255.67 453.01,257.52 453.4,258.6 C453.78,259.69 454.54,263.1 454.9,264.4 C455.26,265.69 456.09,269.77 456.5,269.7 C456.91,269.63 458.01,264.21 458.4,263.8 C458.78,263.39 459.44,265.58 459.8,266.2 C460.16,266.82 461.13,269.51 461.5,269.1 C461.87,268.69 462.63,264.19 463,262.7 C463.37,261.21 464.37,256.78 464.7,256.3 C465.03,255.82 465.5,256.98 465.8,258.6 C466.1,260.22 466.95,267.48 467.3,270.2 C467.65,272.92 468.43,281.28 468.8,281.9 C469.17,282.52 470.06,277.47 470.5,275.5 C470.94,273.53 472.09,266.97 472.6,265 C473.11,263.03 474.36,259.88 474.9,258.6 C475.44,257.32 476.6,254.82 477.2,254 C477.8,253.18 479.36,252.21 480,251.6 C480.64,250.99 482.13,248.87 482.7,248.8 C483.27,248.73 484.32,250.78 484.9,251 C485.48,251.22 487.05,250.43 487.7,250.7 C488.35,250.97 489.85,253.27 490.5,253.3 C491.15,253.34 492.54,251.58 493.3,251 C494.06,250.42 495.92,248.69 497,248.3 C498.08,247.92 501.63,247.55 502.6,247.7 C503.57,247.85 504.54,249.6 505.3,249.6 C506.06,249.6 508.4,247.14 509.1,247.7 C509.8,248.26 510.76,254.05 511.3,254.4 C511.84,254.75 513.2,250.62 513.7,250.7 C514.2,250.78 514.84,254.52 515.6,255.1 C516.36,255.68 519.12,256 520.2,255.7 C521.29,255.4 523.92,252.6 524.9,252.5 C525.88,252.4 527.62,254.98 528.6,254.8 C529.58,254.62 532.3,251.83 533.3,251 C534.3,250.17 536.75,248.08 537.2,247.7" fill="none" stroke="#cc7a30" stroke-width="1.5" stroke-linejoin="round" stroke-linecap="round"/>
<path d="M322.2,305.5 C322.46,306.08 323.64,309.23 324.4,310.5 C325.16,311.77 327.52,315.21 328.7,316.4 C329.88,317.59 333.13,320.02 334.5,320.7 C335.87,321.38 339.21,321.98 340.4,322.2 C341.59,322.42 343.69,322.81 344.7,322.6 C345.71,322.39 347.99,321.04 349.1,320.4 C350.21,319.76 353.1,317.23 354.2,317.1 C355.3,316.97 357.57,319.42 358.5,319.3 C359.43,319.18 361.35,316.14 362.2,316.1 C363.05,316.06 364.87,319.22 365.8,319 C366.73,318.78 369.19,315.44 370.2,314.2 C371.21,312.96 373.06,309.67 374.5,308.4 C375.94,307.13 380.71,304.33 382.5,303.3 C384.29,302.27 388.34,300.38 389.8,299.6 C391.26,298.82 393.81,297.2 395,296.6 C396.19,296 398.69,294.86 400,294.5 C401.31,294.14 404.18,293.76 406.2,293.5 C408.22,293.24 414.7,292.37 417.3,292.3 C419.9,292.23 426.04,292.84 428.5,292.9 C430.96,292.96 436.59,292.54 438.4,292.8 C440.21,293.06 442.95,294.16 444,295.1 C445.05,296.05 446.76,298.59 447.4,300.9 C448.04,303.21 448.96,311.64 449.5,314.9 C450.04,318.15 451.48,327.98 452,328.8 C452.52,329.62 453.48,324.05 454,321.9 C454.52,319.75 455.96,311.22 456.5,310.4 C457.04,309.58 458.11,313.24 458.6,314.9 C459.09,316.56 460.21,323.95 460.7,324.6 C461.19,325.25 462.35,322.45 462.8,320.5 C463.25,318.55 464.16,309.53 464.6,307.9 C465.04,306.27 466.11,307.19 466.6,306.5 C467.09,305.81 468.35,302.36 468.8,302 C469.25,301.64 469.98,303.36 470.5,303.4 C471.02,303.44 472.5,302.39 473.3,302.3 C474.11,302.21 476.59,302.47 477.4,302.6 C478.2,302.73 479.58,303.68 480.2,303.4 C480.82,303.12 482.21,300.08 482.7,300.2 C483.19,300.32 483.86,302.49 484.4,304.4 C484.94,306.31 486.63,314.31 487.3,316.6 C487.97,318.89 489.53,323.43 490.1,324 C490.67,324.57 491.66,323.21 492.2,321.5 C492.74,319.79 494.13,311.87 494.7,309.3 C495.27,306.73 496.45,300.92 497.1,299.5 C497.75,298.08 499.48,297.77 500.3,297.1 C501.12,296.44 503.24,294.19 504.1,293.8 C504.96,293.42 506.71,293.17 507.7,293.8 C508.69,294.43 511.56,298.12 512.6,299.2 C513.64,300.28 515.75,302.59 516.6,303.1 C517.45,303.61 519.19,302.78 519.9,303.6 C520.61,304.42 522.13,310.01 522.7,310.1 C523.27,310.19 524.09,305.44 524.8,304.4 C525.51,303.36 527.85,301.96 528.8,301.2 C529.75,300.44 531.92,298.7 532.9,297.9 C533.88,297.09 536.7,294.72 537.2,294.3" fill="none" stroke="#1ea1ac" stroke-width="1.5" stroke-linejoin="round" stroke-linecap="round"/>
<path d="M322.2,358.3 C322.35,358.85 323.12,361.75 323.5,363 C323.88,364.25 324.98,367.66 325.5,369 C326.02,370.34 327.42,373.43 328,374.5 C328.58,375.57 329.92,377.52 330.5,378.2 C331.08,378.88 332.48,380.01 333,380.3 C333.52,380.59 334.48,380.83 335,380.7 C335.52,380.57 336.86,379.81 337.5,379.2 C338.14,378.59 339.82,376.39 340.5,375.5 C341.18,374.61 342.54,372.53 343.3,371.6 C344.06,370.67 345.92,368.62 347,367.5 C348.08,366.38 351.61,362.84 352.6,362 C353.59,361.16 354.81,360.6 355.5,360.3 C356.19,360 357.89,359.53 358.5,359.4 C359.11,359.27 360.1,358.87 360.7,359.2 C361.3,359.53 362.83,361.73 363.6,362.2 C364.37,362.67 366.45,363.54 367.3,363.2 C368.15,362.86 369.97,360.35 370.9,359.3 C371.83,358.25 373.95,355.23 375.3,354.2 C376.65,353.17 380.81,351.09 382.5,350.5 C384.19,349.91 388.05,349.44 389.8,349.1 C391.55,348.76 395.93,347.9 397.5,347.6 C399.07,347.3 402.37,346.5 403.3,346.5 C404.23,346.5 404.82,347.67 405.5,347.6 C406.18,347.53 407.67,346.2 409.1,345.9 C410.54,345.6 415.77,345.22 417.8,345 C419.83,344.78 424.3,344.23 426.5,344 C428.7,343.77 435.12,343.08 436.7,343 C438.27,342.92 439.28,343.01 440,343.3 C440.72,343.59 442.22,344.57 442.9,345.5 C443.58,346.43 445.32,350.2 445.8,351.3 C446.28,352.4 446.7,354.64 447,354.9 C447.3,355.16 448.03,352.99 448.4,353.5 C448.77,354.01 449.69,357.01 450.2,359.3 C450.71,361.59 452.2,372.09 452.8,373.1 C453.4,374.12 454.73,369.14 455.3,368 C455.87,366.86 457.2,363.38 457.7,363.3 C458.2,363.22 459.12,367.51 459.6,367.3 C460.08,367.09 461.24,362.53 461.8,361.5 C462.36,360.47 463.89,358.25 464.4,358.5 C464.91,358.75 465.73,362.57 466.2,363.6 C466.67,364.63 467.72,367.3 468.4,367.3 C469.08,367.3 471.24,364.63 472,363.6 C472.76,362.57 474.19,359.34 474.9,358.5 C475.61,357.66 477.5,356.31 478.1,356.4 C478.7,356.49 479.39,358.87 480,359.3 C480.61,359.73 482.54,359.53 483.3,360.1 C484.06,360.67 485.74,362.96 486.5,364.2 C487.26,365.44 489.08,369.6 489.8,370.7 C490.52,371.8 491.94,374.08 492.7,373.6 C493.46,373.12 495.51,368.65 496.3,366.6 C497.09,364.55 498.83,357.84 499.5,356 C500.17,354.16 501.43,351.47 502,350.8 C502.57,350.13 503.86,350.5 504.4,350.3 C504.94,350.1 506.12,349.75 506.6,349.1 C507.08,348.45 507.79,344.96 508.5,344.7 C509.21,344.44 512.04,346.43 512.7,346.9 C513.37,347.37 513.65,347.92 514.2,348.7 C514.75,349.48 516.49,352.52 517.4,353.6 C518.31,354.69 521.04,357.75 522,358 C522.96,358.25 524.81,356.31 525.6,355.7 C526.39,355.09 528.04,354.28 528.8,352.8 C529.56,351.32 531.12,344.66 532.1,343 C533.08,341.34 536.61,339.11 537.2,338.6" fill="none" stroke="#d748c2" stroke-width="1.5" stroke-linejoin="round" stroke-linecap="round"/>
<rect x="322.1" y="230.7" width="215.2" height="161.5" fill="none" stroke="#1c1c1c" stroke-width="1.4"/>
<text x="0" y="242.9" font-size="10.61" fill="#1a1a1a" stroke="#1a1a1a" letter-spacing="0.95" transform="translate(394.82,0) scale(0.9013,1)">Se-NPs</text>
<text x="0" y="289.7" font-size="11.34" fill="#1a1a1a" stroke="#1a1a1a" letter-spacing="0.95" transform="translate(401.43,0) scale(0.8792,1)">PMB</text>
<text x="0" y="340.6" font-size="11.34" fill="#1a1a1a" stroke="#1a1a1a" letter-spacing="0.95" transform="translate(380.88,0) scale(0.8225,1)">PMB-Se-NPs</text>
<line x1="462.2" y1="286.3" x2="458.2" y2="276.33" stroke="#222" stroke-width="0.8"/><path d="M456.3,271.6 L460.61,275.9 L456.16,277.69 Z" fill="#111"/>
<text x="0" y="293.9" font-size="9.3" fill="#1a1a1a" stroke="#1a1a1a" letter-spacing="0.95" transform="translate(451.86,0) scale(0.7530,1)">1600</text>
<line x1="430.5" y1="364.6" x2="440.79" y2="359.83" stroke="#222" stroke-width="0.8"/><path d="M445.6,357.6 L441.43,362.4 L439.24,357.68 Z" fill="#111"/>
<text x="0" y="367.3" font-size="9.3" fill="#1a1a1a" stroke="#1a1a1a" letter-spacing="0.95" transform="translate(411.87,0) scale(0.7401,1)">1741</text>
<line x1="509.6" y1="380.8" x2="499.19" y2="377.13" stroke="#222" stroke-width="0.8"/><path d="M494,375.3 L500.52,374.84 L498.79,379.75 Z" fill="#111"/>
<text x="0" y="384" font-size="9.3" fill="#1a1a1a" stroke="#1a1a1a" letter-spacing="0.95" transform="translate(509.96,0) scale(0.7426,1)">1063</text>
</svg>
</body></html>
